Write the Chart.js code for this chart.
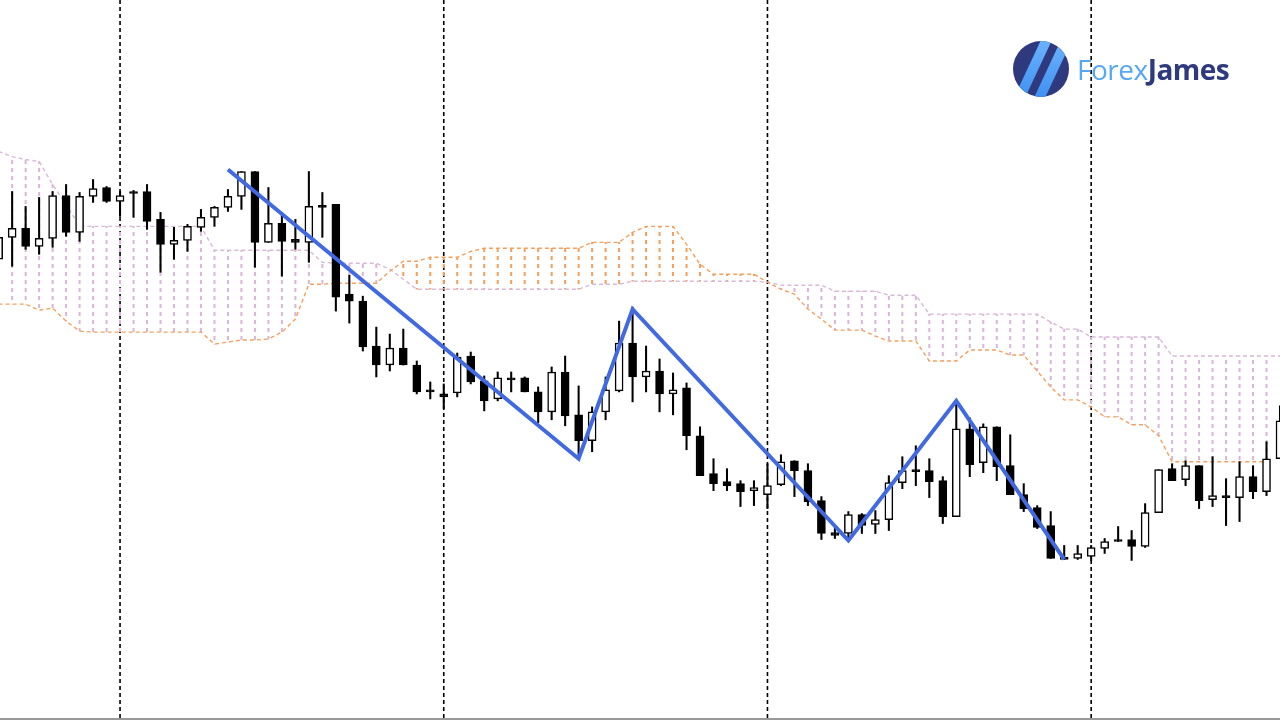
<!DOCTYPE html>
<html>
<head>
<meta charset="utf-8">
<script src="https://cdn.jsdelivr.net/npm/chart.js@4/dist/chart.umd.min.js"></script>
<style>
html, body { margin: 0; padding: 0; background: #fff; }
#wrap { position: relative; width: 1280px; height: 720px; box-sizing: border-box; border-bottom: 2px solid #999; }
#logo { position: absolute; left: 1013px; top: 41px; height: 56px; display: flex; align-items: center; }
#mark { position: relative; width: 56px; height: 56px; border-radius: 50%; background: #2f3a7e; overflow: hidden; }
.stripe { position: absolute; width: 11px; height: 70px; top: -6px; background: linear-gradient(#6fb6ff, #3a8cf0); transform: skewX(-25deg); }
#name { font-family: "Open Sans", sans-serif; font-size: 28px; margin-left: 8px; letter-spacing: -0.5px; }
</style>
</head>
<body>
<div id="wrap">
	<canvas id="candleChart"></canvas>
	<div id="logo">
		<div id="mark"><div class="stripe" style="left:14px"></div><div class="stripe" style="left:34px"></div></div>
		<div id="name"><span style="color:#56a8f2">Forex</span><span style="color:#2f3a7e;font-weight:700">James</span></div>
	</div>
</div>
<script>
// candle values (price levels, axis drawn top-down)
const openVals = [260,238,229,247,239,196,233,197,188,202,192,192,220,245,241,228,218,208,197,172,243,224,240,243,206,205,295,302,347,366,349,366,391,395,394,357,382,400,379,379,393,413,373,416,442,413,392,344,378,372,395,389,437,475,483,485,492,496,486,462,472,502,534,535,516,526,521,484,471,472,482,518,430,464,428,467,496,509,527,559,560,558,550,541,541,548,514,470,481,467,501,497,499,478,493,460];
const closeVals = [238,229,247,239,196,233,197,189,202,196,194,222,245,241,227,218,208,197,172,243,224,242,243,207,208,298,302,348,366,349,366,393,393,398,358,383,402,379,380,393,413,373,417,442,413,391,344,378,372,395,391,437,477,485,487,493,489,487,463,472,503,535,537,516,527,521,484,472,473,483,518,430,466,428,468,496,510,529,560,561,555,549,543,543,548,514,471,482,467,502,497,499,478,493,460,422];
const highVals = [230,192,207,198,192,185,193,180,187,192,191,185,213,228,225,210,207,190,172,172,188,213,220,172,193,205,276,297,328,335,330,362,383,385,354,353,377,373,373,378,388,368,357,387,408,378,322,308,347,360,374,384,428,460,470,482,482,465,456,462,465,498,529,513,515,512,477,458,447,460,478,402,419,425,428,436,485,507,513,547,547,547,540,528,532,505,471,465,462,467,458,480,463,467,443,407];
const lowVals = [265,267,250,255,248,237,242,203,203,217,218,230,273,260,252,232,227,212,210,268,243,277,250,263,238,312,324,352,378,372,366,395,400,410,398,385,412,402,393,393,424,421,427,460,453,421,393,403,393,413,416,451,477,492,492,508,507,510,487,498,507,541,540,543,535,535,532,490,487,499,525,518,478,474,482,496,513,530,560,561,561,562,555,543,562,549,514,482,487,510,508,527,523,500,497,460];

// ichimoku cloud spans
const spanA = [305,305,305,311,309,322,332,333,333,333,333,333,333,333,333,333,345,343,341,341,340,333,320,285,285,284,284,284,284,272,262,262,258,258,258,252,249,249,249,249,249,249,249,249,243,243,243,233,227,227,227,245,265,275,275,275,275,283,290,295,310,320,331,331,331,337,342,342,342,362,362,362,351,351,351,356,356,372,388,401,401,408,418,418,426,426,437,463,463,463,463,463,463,463,463,null];
const spanB = [152,157,160,162,185,205,227,227,227,227,227,227,227,227,227,227,251,251,251,251,251,251,251,251,263,264,264,264,264,270,280,290,290,290,290,290,290,290,290,290,290,290,290,290,285,285,285,282,282,282,282,282,282,282,282,282,282,283,286,286,286,286,292,292,292,292,296,296,296,315,315,315,315,315,315,315,315,315,323,330,330,338,338,338,338,338,338,357,357,357,357,357,357,357,357,357];

// zigzag turning points
const zigIdx = [17, 43, 47, 63, 71, 79];
const zigVals = [170, 460, 310, 542, 402, 561];

// vertical separators
const sepIdx = [9, 33, 57, 81];

const ORANGE = '#f4a160';
const LILAC = '#d8b9d8';

function dashPattern(color)
{
	const c = document.createElement('canvas');
	c.width = 2; c.height = 8;
	const g = c.getContext('2d');
	g.fillStyle = color;
	g.fillRect(0, 0, 2, 4);
	return g.createPattern(c, 'repeat');
}

function main()
{
	const ctx = document.getElementById('candleChart').getContext('2d');
	const orangeHatch = dashPattern(ORANGE);
	const lilacHatch = dashPattern(LILAC);

	const idx = openVals.map((v, i) => i);
	const bodies = idx.map(i => ({ x: i, y: [openVals[i], closeVals[i]] }));
	const wicks = idx.map(i => ({ x: i, y: [highVals[i], lowVals[i]] }));
	const cloud = idx.filter(i => spanA[i] !== null).map(i => ({ x: i, y: [spanA[i], spanB[i]] }));
	const isBull = i => closeVals[i] < openVals[i];

	const datasets = [
		{
			type: 'line', label: 'zigzag', order: 0,
			data: zigIdx.map((x, k) => ({ x: x, y: zigVals[k] })),
			borderColor: '#4169e1', borderWidth: 4, pointRadius: 0, tension: 0
		},
		{
			type: 'bar', label: 'body', order: 1, grouped: false,
			data: bodies, barThickness: 8, minBarLength: 2,
			backgroundColor: c => isBull(c.dataIndex) ? '#ffffff' : '#000000',
			borderColor: '#000', borderWidth: 1.5, borderSkipped: false
		},
		{
			type: 'bar', label: 'wick', order: 2, grouped: false,
			data: wicks, barThickness: 1.4, backgroundColor: '#000'
		},
		{
			type: 'line', label: 'spanA', order: 3,
			data: idx.map(i => ({ x: i, y: spanA[i] })),
			borderColor: ORANGE, borderWidth: 1.4, borderDash: [4, 3], pointRadius: 0, tension: 0
		},
		{
			type: 'line', label: 'spanB', order: 4,
			data: idx.map(i => ({ x: i, y: spanB[i] })),
			borderColor: LILAC, borderWidth: 1.4, borderDash: [4, 3], pointRadius: 0, tension: 0
		},
		{
			type: 'bar', label: 'cloud', order: 5, grouped: false,
			data: cloud, barThickness: 1.4,
			backgroundColor: c => { const d = cloud[c.dataIndex]; return d && d.y[0] < d.y[1] ? orangeHatch : lilacHatch; }
		}
	];

	sepIdx.forEach(x => {
		datasets.push({
			type: 'line', label: 'sep', order: 6,
			data: [{ x: x, y: 0 }, { x: x, y: 720 }],
			borderColor: '#000', borderWidth: 1.6, borderDash: [4, 3], pointRadius: 0
		});
	});

	new Chart(ctx, {
		type: 'bar',
		data: { datasets: datasets },
		options: {
			responsive: true,
			maintainAspectRatio: false,
			animation: false,
			layout: { padding: 0 },
			plugins: { legend: { display: false }, tooltip: { enabled: false } },
			scales: {
				x: { type: 'linear', min: 0.1, max: 95.0, display: false, offset: false },
				y: { type: 'linear', min: 0, max: 720, reverse: true, display: false }
			}
		}
	});
}

main();
</script>
</body>
</html>
